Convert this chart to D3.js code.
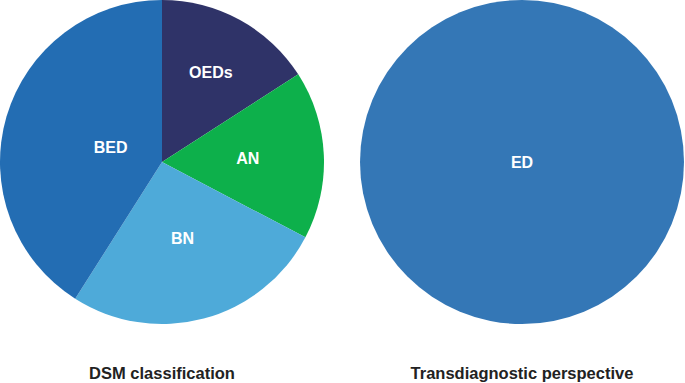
<!DOCTYPE html>
<html>
<head>
<meta charset="utf-8">
<script src="https://cdn.jsdelivr.net/npm/d3@7"></script>
<style>
  body { margin: 0; background: #fff; }
  text { font-family: "Liberation Sans", Arial, sans-serif; font-weight: bold; }
</style>
</head>
<body>
<svg id="chart" width="685" height="383"></svg>
<script>
// DSM classification shares (clockwise from 12 o'clock)
const dsmCategories = ["OEDs", "AN", "BN", "BED"];
const dsmValues = [15.9, 16.8, 26.3, 41.0];
const dsmColors = ["#2f3368", "#0db04b", "#4eaad9", "#236db3"];

const transCategories = ["ED"];
const transValues = [100];
const transColors = ["#3477b6"];

const titles = ["DSM classification", "Transdiagnostic perspective"];

const width = 685, height = 383;
const R = 162;

const svg = d3.select("#chart");

// label distance from centre, as a fraction of the radius
const labelFrac = { OEDs: 0.63, AN: 0.53, BN: 0.49, BED: 0.33, ED: 0 };

function drawPie(cx, cy, cats, vals, colors, title) {
  const g = svg.append("g").attr("transform", `translate(${cx},${cy})`);
  const data = cats.map((c, i) => ({ name: c, value: vals[i], color: colors[i] }));
  const pie = d3.pie().sort(null).value(d => d.value);
  const arc = d3.arc().innerRadius(0).outerRadius(R);
  const arcs = pie(data);

  g.selectAll("path")
    .data(arcs)
    .enter()
    .append("path")
    .attr("d", arc)
    .style("fill", d => d.data.color);

  g.selectAll("text.lbl")
    .data(arcs)
    .enter()
    .append("text")
    .attr("class", "lbl")
    .attr("transform", d => {
      const r = R * labelFrac[d.data.name];
      const a = (d.startAngle + d.endAngle) / 2;
      return `translate(${r * Math.sin(a)},${-r * Math.cos(a)})`;
    })
    .attr("text-anchor", "middle")
    .attr("dy", "0.36em")
    .attr("fill", "white")
    .style("font-size", "16px")
    .text(d => d.data.name);

  svg.append("text")
    .attr("x", cx)
    .attr("y", 379)
    .attr("text-anchor", "middle")
    .attr("fill", "#222")
    .style("font-size", "16.5px")
    .text(title);
}

drawPie(162, 162, dsmCategories, dsmValues, dsmColors, titles[0]);
drawPie(522, 162, transCategories, transValues, transColors, titles[1]);
</script>
</body>
</html>
